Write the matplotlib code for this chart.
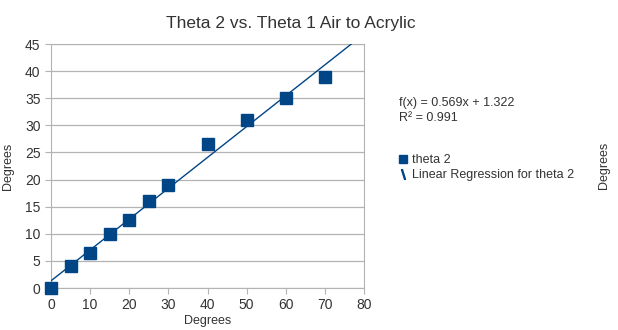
import numpy as np
import matplotlib
matplotlib.use("Agg")
import matplotlib.pyplot as plt
from matplotlib.lines import Line2D

plt.rcParams["font.family"] = ["Liberation Sans", "DejaVu Sans"]

theta1 = [0, 5, 10, 15, 20, 25, 30, 40, 50, 60, 70]
theta2 = [0, 4, 6.5, 10, 12.5, 16, 19, 26.5, 31, 35, 39]
slope, intercept = 0.569, 1.322
x_ticks = [0, 10, 20, 30, 40, 50, 60, 70, 80]
y_ticks = [0, 5, 10, 15, 20, 25, 30, 35, 40, 45]

BLUE = "#004586"
GRID = "#b3b3b3"
TXT = "#333333"

fig = plt.figure(figsize=(6.18, 3.30), dpi=100)
ax = fig.add_axes([51 / 618, 42 / 330, 313 / 618, 244 / 330])

ax.set_xlim(0, 80)
ax.set_ylim(0, 45)
ax.set_xticks(x_ticks)
ax.set_yticks(y_ticks)
ax.yaxis.grid(True, color=GRID, linewidth=0.9)
ax.set_axisbelow(True)
for sp in ax.spines.values():
    sp.set_color(GRID)
ax.tick_params(colors=GRID, labelcolor=TXT, labelsize=10, length=4)

xs = np.array([0, (45 - intercept) / slope])
ax.plot(xs, slope * xs + intercept, color=BLUE, linewidth=1, zorder=3)
ax.plot(theta1, theta2, ls="none", marker="s", markersize=8.5,
        color=BLUE, clip_on=False, zorder=4)

ax.set_xlabel("Degrees", fontsize=9, color=TXT, labelpad=2)
ax.set_ylabel("Degrees", fontsize=9, color=TXT, labelpad=8)
fig.text(0.47, 0.93, "Theta 2 vs. Theta 1 Air to Acrylic", ha="center",
         va="center", fontsize=12.5, color=TXT)

fig.text(399 / 618, 1 - 103 / 330, "f(x) = 0.569x + 1.322", fontsize=9,
         color=TXT, va="center")
fig.text(399 / 618, 1 - 118 / 330, "R² = 0.991", fontsize=9,
         color=TXT, va="center")

handles = [
    Line2D([], [], ls="none", marker="s", markersize=6, color=BLUE),
    Line2D([], [], ls="none", marker="$\\backslash$", markersize=7, color=BLUE),
]
fig.legend(handles, ["theta 2", "Linear Regression for theta 2"],
           loc="upper left", bbox_to_anchor=(392 / 618, 1 - 148 / 330),
           frameon=False, fontsize=9, handlelength=0.8, handletextpad=0.3,
           labelspacing=0.25, borderpad=0, labelcolor=TXT)

fig.text(604 / 618, 1 - 165 / 330, "Degrees", rotation=90, fontsize=9,
         color=TXT, ha="center", va="center")

fig.savefig("out.png", dpi=100)
